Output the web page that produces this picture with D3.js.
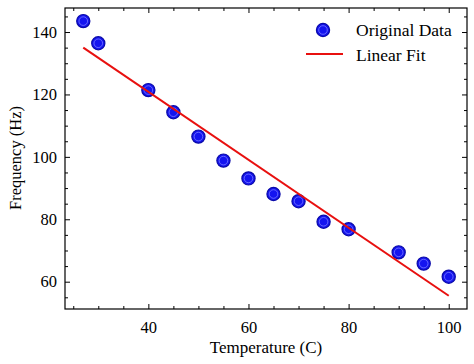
<!DOCTYPE html>
<html>
<head>
<meta charset="utf-8">
<script src="https://cdn.jsdelivr.net/npm/d3@7"></script>
<style>
	body { margin: 0; background: #fff; }
	svg text { font-family: "Liberation Serif", "Times New Roman", serif; fill: #000; }
</style>
</head>
<body>
<svg id="chart" width="474" height="364"></svg>
<script>
// measured data
var temperature = [27, 30, 40, 45, 50, 55, 60, 65, 70, 75, 80, 90, 95, 100];
var frequency = [143.5, 136.4, 121.4, 114.3, 106.5, 98.8, 93.1, 88.1, 85.8, 79.2, 76.8, 69.4, 65.8, 61.6];

// fitted line end points
var fitX = [27, 100];
var fitY = [135.0, 55.5];

var xTicks = [40, 60, 80, 100];
var yTicks = [60, 80, 100, 120, 140];

var svg = d3.select("#chart");
var margin = {top: 8, right: 7, bottom: 55, left: 65};
var width = 474, height = 364;

var x = d3.scaleLinear().domain([23.35, 103.65]).range([margin.left, width - margin.right]);
var y = d3.scaleLinear().domain([51.25, 147.7]).range([height - margin.bottom, margin.top]);

var x0 = margin.left, x1 = width - margin.right;
var y0 = height - margin.bottom, y1 = margin.top;

//Minor tick values
var xMinor = d3.range(25, 104, 5).filter(function(d){ return xTicks.indexOf(d) < 0; });
var yMinor = d3.range(55, 148, 5).filter(function(d){ return yTicks.indexOf(d) < 0; });

//Axes with inward ticks
function styleAxis(g){
	g.select(".domain").remove();
	g.selectAll("line").attr("stroke", "#000").attr("stroke-width", 1);
	g.selectAll("text").attr("font-size", "16.5px");
}

svg.append("g").attr("transform", "translate(0," + y0 + ")")
	.call(d3.axisBottom(x).tickValues(xTicks).tickSize(-5).tickPadding(12).tickFormat(d3.format("d")))
	.call(styleAxis);
svg.append("g").attr("transform", "translate(0," + y0 + ")")
	.call(d3.axisBottom(x).tickValues(xMinor).tickSize(-3).tickFormat(""))
	.call(styleAxis);
svg.append("g").attr("transform", "translate(0," + y1 + ")")
	.call(d3.axisTop(x).tickValues(xTicks).tickSize(-5).tickFormat(""))
	.call(styleAxis);
svg.append("g").attr("transform", "translate(0," + y1 + ")")
	.call(d3.axisTop(x).tickValues(xMinor).tickSize(-3).tickFormat(""))
	.call(styleAxis);

svg.append("g").attr("transform", "translate(" + x0 + ",0)")
	.call(d3.axisLeft(y).tickValues(yTicks).tickSize(-5).tickPadding(8).tickFormat(d3.format("d")))
	.call(styleAxis);
svg.append("g").attr("transform", "translate(" + x0 + ",0)")
	.call(d3.axisLeft(y).tickValues(yMinor).tickSize(-3).tickFormat(""))
	.call(styleAxis);
svg.append("g").attr("transform", "translate(" + x1 + ",0)")
	.call(d3.axisRight(y).tickValues(yTicks).tickSize(-5).tickFormat(""))
	.call(styleAxis);
svg.append("g").attr("transform", "translate(" + x1 + ",0)")
	.call(d3.axisRight(y).tickValues(yMinor).tickSize(-3).tickFormat(""))
	.call(styleAxis);

//Frame
svg.append("rect")
	.attr("x", x0).attr("y", y1)
	.attr("width", x1 - x0).attr("height", y0 - y1)
	.attr("fill", "none").attr("stroke", "#000").attr("stroke-width", 1.2);

//Data points
var pts = svg.append("g");
var data = temperature.map(function(t, i){ return {t: t, f: frequency[i]}; });
function marker(g){
	g.append("circle").attr("r", 6.6).attr("fill", "#1414f0").attr("stroke", "#0a0aa8").attr("stroke-width", 1.2);
	g.append("circle").attr("r", 4.3).attr("fill", "none").attr("stroke", "#7a7aff").attr("stroke-width", 0.8);
}
pts.selectAll("g").data(data).enter().append("g")
	.attr("transform", function(d){ return "translate(" + x(d.t) + "," + y(d.f) + ")"; })
	.each(function(){ marker(d3.select(this)); });

//Fit line
svg.append("line")
	.attr("x1", x(fitX[0])).attr("y1", y(fitY[0]))
	.attr("x2", x(fitX[1])).attr("y2", y(fitY[1]))
	.attr("stroke", "#e8100f").attr("stroke-width", 2);

//Legend
var legend = svg.append("g");
marker(legend.append("g").attr("transform", "translate(323,30)"));
legend.append("text").attr("x", 356).attr("y", 36).attr("font-size", "17.5px").text("Original Data");
legend.append("line").attr("x1", 306).attr("x2", 343).attr("y1", 54).attr("y2", 54)
	.attr("stroke", "#e8100f").attr("stroke-width", 2);
legend.append("text").attr("x", 356).attr("y", 61).attr("font-size", "17.5px").text("Linear Fit");

//Axis titles
svg.append("text")
	.attr("text-anchor", "middle")
	.attr("x", 266).attr("y", 353)
	.attr("font-size", "17px")
	.text("Temperature (C)");
svg.append("text")
	.attr("text-anchor", "middle")
	.attr("transform", "translate(21,158)rotate(-90)")
	.attr("font-size", "16.5px")
	.text("Frequency (Hz)");
</script>
</body>
</html>
